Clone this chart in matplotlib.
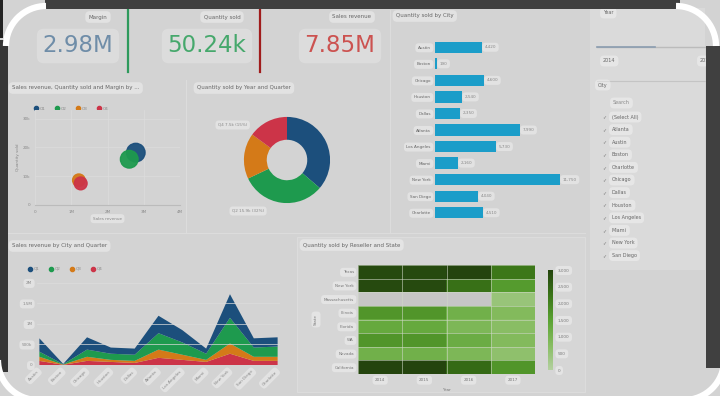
import matplotlib
matplotlib.use('Agg')
import matplotlib.pyplot as plt
import numpy as np
from matplotlib.patches import Arc, Rectangle
from matplotlib.colors import LinearSegmentedColormap

# ---- data ----
kpi_labels = ['Margin', 'Quantity sold', 'Sales revenue']
kpi_values = ['2.98M', '50.24k', '7.85M']
kpi_colors = ['#6f8da8', '#46a86c', '#cc5250']

quarters = ['Q1', 'Q2', 'Q3', 'Q4']
q_colors = ['#1c4f7c', '#1e9a4e', '#d47a18', '#cc3448']
q_revenue = [2.78, 2.60, 1.21, 1.26]      # M
q_quantity = [18.2, 15.9, 8.6, 7.5]       # k
q_margin = [1.05, 0.95, 0.48, 0.50]       # M

cities = ['Austin', 'Boston', 'Chicago', 'Houston', 'Dallas', 'Atlanta',
          'Los Angeles', 'Miami', 'New York', 'San Diego', 'Charlotte']
city_qty = [4420, 190, 4600, 2540, 2350, 7990, 5730, 2160, 11750, 4040, 4510]

# sales revenue by city and quarter (M)
rev_q1 = [0.325, 0.008, 0.30, 0.15, 0.15, 0.425, 0.30, 0.125, 0.575, 0.225, 0.225]
rev_q2 = [0.125, 0.008, 0.175, 0.15, 0.15, 0.40, 0.30, 0.15, 0.625, 0.225, 0.25]
rev_q3 = [0.10, 0.005, 0.10, 0.05, 0.05, 0.20, 0.125, 0.05, 0.25, 0.10, 0.10]
rev_q4 = [0.10, 0.005, 0.10, 0.075, 0.05, 0.175, 0.125, 0.075, 0.275, 0.10, 0.10]

states = ['Texas', 'New York', 'Massachusetts', 'Illinois', 'Florida', 'WA', 'Nevada', 'California']
years = ['2014', '2015', '2016', '2017']
heat = np.array([
    [2900, 2900, 3000, 2200],
    [2900, 2900, 2300, 1600],
    [np.nan, np.nan, np.nan, 450],
    [1700, 1700, 1100, 800],
    [1300, 1300, 900, 700],
    [1700, 1700, 1200, 800],
    [1100, 1100, 900, 600],
    [3000, 3000, 2400, 1700],
])

filter_items = ['(Select All)', 'Atlanta', 'Austin', 'Boston', 'Charlotte', 'Chicago',
                'Dallas', 'Houston', 'Los Angeles', 'Miami', 'New York', 'San Diego']

# ---- layout helpers (pixel coords, y from top) ----
W, H = 720, 396
BG = '#d3d3d3'
TXT = '#666666'
fig = plt.figure(figsize=(7.2, 3.96), dpi=100)
fig.patch.set_facecolor(BG)


def box(x, y, w, h):
    return [x / W, 1 - (y + h) / H, w / W, h / H]


def Y(py):
    return H - py


lbl_box = dict(boxstyle='round,pad=0.6,rounding_size=0.8', fc='white', ec='none', alpha=0.35)
kpi_box = dict(boxstyle='round,pad=0.25,rounding_size=0.3', fc='white', ec='none', alpha=0.22)

# background layer
bg = fig.add_axes([0, 0, 1, 1], zorder=-5)
bg.set_xlim(0, W)
bg.set_ylim(0, H)
bg.axis('off')
bg.add_patch(Rectangle((590, Y(270)), 115, 262, fc='#dadada', ec='none'))
bg.add_patch(Rectangle((297, Y(392)), 288, 155, fc='#d6d6d6', ec='#dcdcdc', lw=0.8))
bg.plot([390, 390], [Y(10), Y(232)], color='#dcdcdc', lw=0.8)
bg.plot([8, 585], [Y(233), Y(233)], color='#dcdcdc', lw=0.8)
bg.plot([186, 186], [Y(80), Y(232)], color='#dcdcdc', lw=0.8)

# KPIs
kx = [78, 207, 340]
lx = [98, 222, 352]
for i in range(3):
    bg.text(kx[i], Y(46), kpi_values[i], color=kpi_colors[i], fontsize=16.5,
            ha='center', va='center', bbox=kpi_box)
    bg.text(lx[i], Y(17), kpi_labels[i], color=TXT, fontsize=4, ha='center', va='center',
            bbox=lbl_box)
bg.plot([128, 128], [Y(10), Y(72)], color='#2e9a5c', lw=1.6)
bg.plot([260, 260], [Y(8), Y(72)], color='#a01c1c', lw=1.6)

# panel titles
bg.text(12, Y(88), 'Sales revenue, Quantity sold and Margin by ...', fontsize=4, color=TXT,
        va='center', bbox=lbl_box)
bg.text(197, Y(88), 'Quantity sold by Year and Quarter', fontsize=4, color=TXT,
        va='center', bbox=lbl_box)
bg.text(396, Y(16), 'Quantity sold by City', fontsize=4, color=TXT, va='center', bbox=lbl_box)
bg.text(12, Y(246), 'Sales revenue by City and Quarter', fontsize=4, color=TXT,
        va='center', bbox=lbl_box)
bg.text(303, Y(245), 'Quantity sold by Reseller and State', fontsize=4, color=TXT,
        va='center', bbox=lbl_box)

# legends (scatter + area)
for ly, lx0 in [(Y(108), 36), (Y(269), 30)]:
    for i, q in enumerate(quarters):
        bg.scatter(lx0 + i * 21, ly, s=9, color=q_colors[i])
        bg.text(lx0 + i * 21 + 4, ly, q, fontsize=3, color='#888888', va='center')

# filter panel
bg.text(603, Y(13), 'Year', fontsize=3.5, color=TXT, va='center', bbox=lbl_box)
bg.plot([597, 705], [Y(47), Y(47)], color='#bbbbbb', lw=1)
bg.plot([597, 655], [Y(47), Y(47)], color='#8a9cb0', lw=1.2)
bg.text(603, Y(61), '2014', fontsize=3.5, color=TXT, va='center', bbox=lbl_box)
bg.text(700, Y(61), '2017', fontsize=3.5, color=TXT, va='center', bbox=lbl_box)
bg.plot([597, 705], [Y(81), Y(81)], color='#c4c4c4', lw=0.8)
bg.text(598, Y(85), 'City', fontsize=3.5, color=TXT, va='center', bbox=lbl_box)
bg.text(613, Y(103), 'Search', fontsize=3.5, color='#888888', va='center', bbox=lbl_box)
for i, it in enumerate(filter_items):
    yy = Y(117 + i * 12.6)
    bg.text(602, yy, '✓', fontsize=3.5, color='#777777', va='center')
    bg.text(612, yy, it, fontsize=3.5, color=TXT, va='center', bbox=lbl_box)

# ---- scatter (bubble) ----
ax1 = fig.add_axes(box(35, 110, 145, 95))
ax1.set_facecolor(BG)
ax1.scatter(q_revenue, q_quantity, s=[m * 170 for m in q_margin], c=q_colors, alpha=0.95,
            zorder=3)
ax1.set_xlim(0, 4)
ax1.set_ylim(0, 33)
ax1.set_xticks([0, 1, 2, 3, 4])
ax1.set_xticklabels(['0', '1M', '2M', '3M', '4M'])
ax1.set_yticks([0, 10, 20, 30])
ax1.set_yticklabels(['0', '10k', '20k', '30k'])
ax1.tick_params(labelsize=3, colors='#888888', length=0)
ax1.grid(color='#dcdcdc', lw=0.5)
for s in ax1.spines.values():
    s.set_visible(False)
ax1.spines['bottom'].set_visible(True)
ax1.spines['bottom'].set_color('#bbbbbb')
ax1.set_ylabel('Quantity sold', fontsize=3, color='#888888', labelpad=2)
ax1.set_xlabel('Sales revenue', fontsize=3, color='#888888', labelpad=2,
               bbox=lbl_box)

# ---- donut ----
ax2 = fig.add_axes(box(231, 104, 112, 112))
ax2.pie(q_quantity, colors=q_colors, startangle=90, counterclock=False, radius=1.0,
        wedgeprops=dict(width=0.53, edgecolor='none'))
ax2.set_xlim(-1.3, 1.3)
ax2.set_ylim(-1.3, 1.3)
ax2.set_aspect('equal')
bg.text(218, Y(125), 'Q4 7.5k (15%)', fontsize=3, color='#888888', va='center', bbox=lbl_box)
bg.text(232, Y(211), 'Q2 15.9k (32%)', fontsize=3, color='#888888', va='center', bbox=lbl_box)

# ---- city bars ----
ax3 = fig.add_axes(box(435, 39, 150, 182))
ax3.set_facecolor(BG)
ypos = np.arange(len(cities))
ax3.barh(ypos, city_qty, height=0.68, color='#1b9dc9', zorder=2)
ax3.set_ylim(len(cities) - 0.5, -0.5)
ax3.set_xlim(0, 14100)
ax3.set_xticks([])
ax3.set_yticks(ypos)
ax3.set_yticklabels(cities)
ax3.tick_params(labelsize=3, colors=TXT, length=0, pad=3)
for t in ax3.get_yticklabels():
    t.set_bbox(lbl_box)
for i, v in enumerate(city_qty):
    ax3.text(v + 250, i, f'{v:,}', fontsize=3, color='#888888', va='center', zorder=4,
             bbox=lbl_box)
for s in ax3.spines.values():
    s.set_visible(False)

# ---- stacked area ----
ax4 = fig.add_axes(box(37, 278, 243, 87))
ax4.set_facecolor(BG)
xi = np.arange(len(cities))
ax4.stackplot(xi, rev_q4, rev_q3, rev_q2, rev_q1,
              colors=[q_colors[3], q_colors[2], q_colors[1], q_colors[0]], lw=0)
ax4.set_xlim(-0.1, len(cities) - 0.9)
ax4.set_ylim(0, 2.12)
ax4.set_yticks([0, 0.5, 1, 1.5, 2])
ax4.set_yticklabels(['0', '500k', '1M', '1.5M', '2M'])
ax4.set_xticks(xi)
ax4.set_xticklabels(cities, rotation=45, ha='right')
ax4.tick_params(labelsize=3, colors='#888888', length=0)
for t in ax4.get_xticklabels() + ax4.get_yticklabels():
    t.set_bbox(lbl_box)
ax4.grid(axis='y', color='#dcdcdc', lw=0.5)
for s in ax4.spines.values():
    s.set_visible(False)

# ---- heatmap ----
ax5 = fig.add_axes(box(358, 265, 177, 109))
cmap = LinearSegmentedColormap.from_list('g', ['#b4d0a0', '#86bc60', '#5aa232', '#3a7418', '#24440e'])
cmap.set_bad('#c6c6c6')
m = ax5.imshow(np.ma.masked_invalid(heat), cmap=cmap, vmin=0, vmax=3000, aspect='auto')
ax5.set_xticks(range(len(years)))
ax5.set_xticklabels(years)
ax5.set_yticks(range(len(states)))
ax5.set_yticklabels(states)
ax5.tick_params(labelsize=3, colors='#777777', length=0, pad=3)
for t in ax5.get_xticklabels() + ax5.get_yticklabels():
    t.set_bbox(lbl_box)
ax5.set_xticks(np.arange(-0.5, 4, 1), minor=True)
ax5.set_yticks(np.arange(-0.5, 8, 1), minor=True)
ax5.grid(which='minor', color='#d0d8c8', lw=0.4)
ax5.tick_params(which='minor', length=0)
ax5.set_xlabel('Year', fontsize=3, color='#777777', labelpad=4)
ax5.set_ylabel('State', fontsize=3, color='#777777', labelpad=4, bbox=lbl_box)
for s in ax5.spines.values():
    s.set_visible(False)
cax = fig.add_axes(box(548, 270, 5, 100))
cb = fig.colorbar(m, cax=cax, ticks=[0, 500, 1000, 1500, 2000, 2500, 3000])
cb.ax.set_yticklabels(['0', '500', '1,000', '1,500', '2,000', '2,500', '3,000'])
cb.ax.tick_params(labelsize=3, colors='#777777', length=0)
for t in cb.ax.get_yticklabels():
    t.set_bbox(lbl_box)
cb.outline.set_visible(False)

# ---- device frame overlay ----
fr = fig.add_axes([0, 0, 1, 1], zorder=20)
fr.set_xlim(0, W)
fr.set_ylim(0, H)
fr.axis('off')
fr.patch.set_visible(False)
dark = '#3f3f3f'
fr.add_patch(Rectangle((45, Y(9)), 635, 9, fc=dark, ec='none'))
fr.add_patch(Rectangle((0, Y(372)), 8, 332, fc='#363636', ec='none'))
fr.add_patch(Rectangle((706, Y(368)), 14, 322, fc='#404040', ec='none'))
for (cx, cy, t1, t2) in [(46, 46, 90, 180), (676, 46, 0, 90), (38, 360, 180, 270),
                         (684, 360, 270, 360)]:
    fr.add_patch(Arc((cx, Y(cy)), 80, 80, theta1=t1, theta2=t2, color='white', lw=4.5))
fr.add_patch(Rectangle((0, Y(38)), 3, 38, fc='#222222', ec='none'))

fig.savefig('out.png', dpi=100, facecolor=fig.get_facecolor())
